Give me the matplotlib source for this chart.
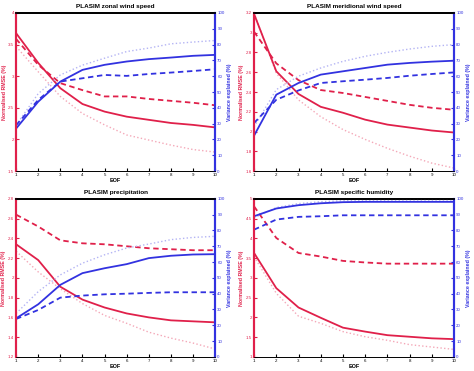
import matplotlib
matplotlib.use('Agg')
import matplotlib.pyplot as plt

plt.rcParams['font.family'] = ['Liberation Sans', 'DejaVu Sans']

eof = list(range(1, 11))

# zonal wind speed
zon_rmse = [3.68, 3.21, 2.81, 2.56, 2.44, 2.36, 2.31, 2.26, 2.23, 2.19]
zon_rmse_dash = [3.59, 3.18, 2.89, 2.78, 2.68, 2.68, 2.64, 2.61, 2.58, 2.54]
zon_rmse_dot = [3.47, 3.07, 2.68, 2.41, 2.23, 2.07, 1.99, 1.91, 1.84, 1.80]
zon_var = [26.9, 43.9, 56.6, 64.0, 67.2, 69.3, 70.8, 71.8, 72.9, 73.5]
zon_var_dash = [29.0, 45.0, 56.6, 58.7, 60.8, 60.2, 61.4, 62.3, 63.3, 64.4]
zon_var_dot = [29.0, 49.0, 60.8, 67.0, 71.4, 75.6, 77.8, 80.5, 81.6, 82.6]

# meridional wind speed
mer_rmse = [3.19, 2.61, 2.38, 2.25, 2.19, 2.12, 2.07, 2.04, 2.01, 1.99]
mer_rmse_dash = [3.01, 2.69, 2.52, 2.42, 2.39, 2.35, 2.31, 2.27, 2.24, 2.22]
mer_rmse_dot = [3.20, 2.59, 2.32, 2.15, 2.02, 1.92, 1.83, 1.75, 1.68, 1.63]
mer_var = [22.4, 48.3, 55.7, 61.0, 63.1, 65.2, 67.3, 68.4, 69.2, 69.8]
mer_var_dash = [30.4, 45.1, 51.0, 55.7, 56.8, 57.8, 58.9, 60.3, 61.4, 62.4]
mer_var_dot = [28.0, 51.5, 60.0, 65.2, 69.4, 72.6, 75.1, 77.2, 78.9, 80.0]

# precipitation
pre_rmse = [2.34, 2.18, 1.91, 1.78, 1.70, 1.64, 1.60, 1.57, 1.56, 1.55]
pre_rmse_dash = [2.64, 2.52, 2.38, 2.35, 2.34, 2.32, 2.30, 2.29, 2.28, 2.28]
pre_rmse_dot = [2.27, 2.06, 1.89, 1.74, 1.62, 1.54, 1.45, 1.39, 1.34, 1.28]
pre_var = [24.4, 33.3, 45.6, 53.0, 56.1, 58.7, 62.5, 64.0, 64.8, 65.0]
pre_var_dash = [24.0, 29.7, 37.5, 38.8, 39.6, 40.0, 40.5, 40.9, 40.9, 40.9]
pre_var_dot = [27.5, 41.3, 51.9, 59.3, 64.6, 68.9, 71.4, 74.2, 75.6, 76.3]

# specific humidity
hum_rmse = [3.63, 2.74, 2.25, 1.99, 1.74, 1.64, 1.55, 1.51, 1.47, 1.45]
hum_rmse_dash = [4.81, 4.01, 3.63, 3.54, 3.43, 3.39, 3.36, 3.36, 3.36, 3.36]
hum_rmse_dot = [3.54, 2.61, 2.03, 1.85, 1.64, 1.51, 1.42, 1.31, 1.25, 1.19]
hum_var = [89.0, 93.9, 96.0, 97.2, 97.9, 98.1, 98.1, 98.1, 98.1, 98.1]
hum_var_dash = [80.5, 86.9, 88.6, 89.0, 89.6, 89.6, 89.6, 89.6, 89.6, 89.6]
hum_var_dot = [88.0, 94.5, 97.0, 98.2, 98.8, 99.0, 99.1, 99.2, 99.2, 99.2]

RED = '#e0204a'
BLUE = '#3232e0'
PINK = '#f4a8b8'
LBLUE = '#b4b4f4'


def draw(pos, title, rmse, rmse_dash, rmse_dot, var, var_dash, var_dot, ylim, yticks):
    ax = fig.add_axes(pos)
    ax2 = ax.twinx()
    ax.plot(eof, rmse_dot, ':', color=PINK, lw=1.0)
    ax.plot(eof, rmse, '-', color=RED, lw=1.3)
    ax.plot(eof, rmse_dash, '--', color=RED, lw=1.3, dashes=(3, 2))
    ax2.plot(eof, var_dot, ':', color=LBLUE, lw=1.0)
    ax2.plot(eof, var, '-', color=BLUE, lw=1.3)
    ax2.plot(eof, var_dash, '--', color=BLUE, lw=1.3, dashes=(3, 2))

    ax.set_xlim(1, 10)
    ax.set_xticks(eof)
    ax.set_ylim(*ylim)
    ax.set_yticks(yticks)
    ax.set_yticklabels(['%g' % t for t in yticks])
    ax2.set_ylim(0, 100)
    ax2.set_yticks(range(0, 101, 10))

    ax.tick_params(axis='x', direction='in', labelsize=3.2, length=2, pad=1.5)
    ax.tick_params(axis='y', direction='in', labelsize=3.2, length=2, pad=1.5,
                   colors=RED)
    ax2.tick_params(axis='y', direction='in', labelsize=3.2, length=2, pad=1.5,
                    colors=BLUE)
    ax.set_xlabel('EOF', fontsize=4, fontweight='bold', labelpad=0.5)
    ax.set_ylabel('Normalised RMSE (%)', fontsize=3.8, fontweight='bold',
                  color=RED, labelpad=1)
    ax2.set_ylabel('Variance explained (%)', fontsize=3.8, fontweight='bold',
                   color=BLUE, labelpad=2)
    ax.set_title(title, fontsize=4.6, fontweight='bold', pad=3.5)

    for a in (ax, ax2):
        a.spines['left'].set_color(RED)
        a.spines['left'].set_linewidth(1.5)
        a.spines['right'].set_color(BLUE)
        a.spines['right'].set_linewidth(1.5)
        a.spines['top'].set_linewidth(1.3)
        a.spines['bottom'].set_linewidth(0.6)


fig = plt.figure(figsize=(4.74, 3.71), dpi=100)

draw([0.034, 0.539, 0.42, 0.426], 'PLASIM zonal wind speed',
     zon_rmse, zon_rmse_dash, zon_rmse_dot, zon_var, zon_var_dash, zon_var_dot,
     (1.5, 4), [1.5, 2, 2.5, 3, 3.5, 4])
draw([0.536, 0.539, 0.422, 0.426], 'PLASIM meridional wind speed',
     mer_rmse, mer_rmse_dash, mer_rmse_dot, mer_var, mer_var_dash, mer_var_dot,
     (1.6, 3.2), [1.6, 1.8, 2, 2.2, 2.4, 2.6, 2.8, 3, 3.2])
draw([0.034, 0.038, 0.42, 0.426], 'PLASIM precipitation',
     pre_rmse, pre_rmse_dash, pre_rmse_dot, pre_var, pre_var_dash, pre_var_dot,
     (1.2, 2.8), [1.2, 1.4, 1.6, 1.8, 2, 2.2, 2.4, 2.6, 2.8])
draw([0.536, 0.038, 0.422, 0.426], 'PLASIM specific humidity',
     hum_rmse, hum_rmse_dash, hum_rmse_dot, hum_var, hum_var_dash, hum_var_dot,
     (1, 5), [1, 1.5, 2, 2.5, 3, 3.5, 4, 4.5, 5])

fig.savefig('out.png', dpi=100)
